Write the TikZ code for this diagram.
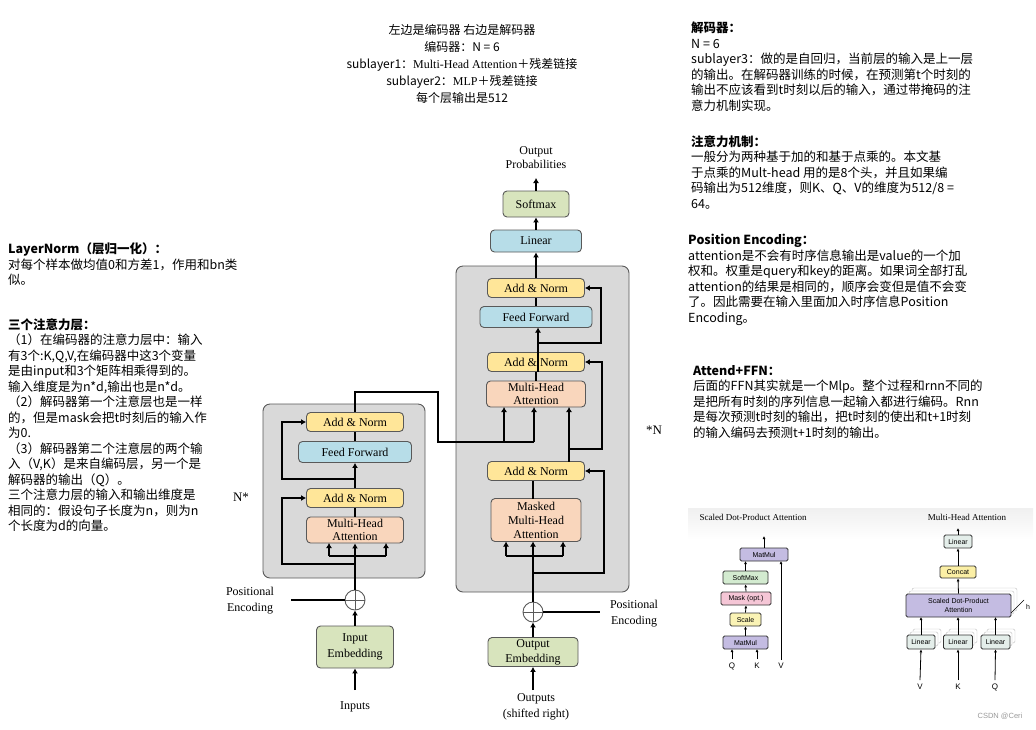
\documentclass[tikz,border=0pt]{standalone}
\usepackage{fontspec}
\setmainfont{Liberation Serif}
\newfontfamily\cjk{Noto Sans CJK SC}
\newfontfamily\sans{Liberation Sans}
\usetikzlibrary{arrows.meta}
\definecolor{gbox}{HTML}{D9D9D9}
\definecolor{addn}{HTML}{FFE699}
\definecolor{ffc}{HTML}{B7DDE8}
\definecolor{mhac}{HTML}{F9D6BC}
\definecolor{embc}{HTML}{D8E4BD}
\definecolor{lav}{HTML}{C4BCE2}
\definecolor{sftc}{HTML}{D3EBD0}
\definecolor{mskc}{HTML}{F5C6D6}
\definecolor{sclc}{HTML}{FAF3B5}
\definecolor{linc}{HTML}{E4EEEA}
\definecolor{conc}{HTML}{FBEFA5}
\begin{document}
\begin{tikzpicture}[x=1pt,y=-1pt,
 blk/.style={draw=black!65,line width=0.9pt,rounded corners=4pt,align=center,inner sep=0pt,
   font=\fontsize{12}{13}\selectfont},
 an/.style={blk,fill=addn,minimum width=97pt,minimum height=19pt},
 ln/.style={line width=1.3pt},
 arr/.style={line width=1.3pt,-{Latex[length=5pt,width=6pt]}},
 cb/.style={draw=black!65,line width=0.9pt,circle,minimum size=20pt,inner sep=0pt,
   path picture={\draw[line width=0.9pt] (path picture bounding box.north)--(path picture bounding box.south)
   (path picture bounding box.west)--(path picture bounding box.east);}},
 tx/.style={anchor=north west,align=left,inner sep=0pt,font=\cjk\fontsize{12.5}{15.5}\selectfont},
 lbl/.style={align=center,inner sep=0pt,font=\fontsize{12}{13}\selectfont},
 mb/.style={draw=black!80,line width=0.8pt,rounded corners=1.5pt,inner sep=0pt,font=\sans\fontsize{7}{8}\selectfont},
 marr/.style={line width=0.8pt,-{Latex[length=3pt,width=3pt]}}
]
\useasboundingbox (0,0) rectangle (1036,729);
% top text
\node[lbl,font=\cjk\fontsize{12}{17}\selectfont] (top) at (462,64) {左边是编码器 右边是解码器\\编码器：N = 6\\sublayer1：{\rmfamily Multi-Head Attention}＋残差链接\\sublayer2：{\rmfamily MLP}＋残差链接\\每个层输出是512};
% left text
\node[tx] (lt1) at (8,243) {\textbf{LayerNorm（层归一化）：}\\对每个样本做均值0和方差1，作用和bn类\\似。};
\node[tx] (lt2) at (8,318) {\textbf{三个注意力层：}\\（1）在编码器的注意力层中：输入\\有3个:K,Q,V,在编码器中这3个变量\\是由input和3个矩阵相乘得到的。\\输入维度是为n*d,输出也是n*d。\\（2）解码器第一个注意层也是一样\\的，但是mask会把t时刻后的输入作\\为0.\\（3）解码器第二个注意层的两个输\\入（V,K）是来自编码层，另一个是\\解码器的输出（Q）。\\三个注意力层的输入和输出维度是\\相同的：假设句子长度为n，则为n\\个长度为d的向量。};
% right text
\node[tx] (rt1) at (691,22) {\textbf{解码器：}\\N = 6\\sublayer3：做的是自回归，当前层的输入是上一层\\的输出。在解码器训练的时候，在预测第t个时刻的\\输出不应该看到t时刻以后的输入，通过带掩码的注\\意力机制实现。};
\node[tx] (rt2) at (691,135) {\textbf{注意力机制：}\\一般分为两种基于加的和基于点乘的。本文基\\于点乘的Mult-head 用的是8个头，并且如果编\\码输出为512维度，则K、Q、V的维度为512/8 =\\64。};
\node[tx] (rt3) at (688,234) {\textbf{Position Encoding：}\\attention是不会有时序信息输出是value的一个加\\权和。权重是query和key的距离。如果词全部打乱\\attention的结果是相同的，顺序会变但是值不会变\\了。因此需要在输入里面加入时序信息Position\\Encoding。};
\node[tx] (rt4) at (693,365) {\textbf{Attend+FFN：}\\后面的FFN其实就是一个Mlp。整个过程和rnn不同的\\是把所有时刻的序列信息一起输入都进行编码。Rnn\\是每次预测t时刻的输出，把t时刻的使出和t+1时刻\\的输入编码去预测t+1时刻的输出。};
% big boxes
\node[draw=black!65,line width=0.9pt,fill=gbox,rounded corners=7pt,minimum width=162pt,minimum height=174pt,inner sep=0pt] (encbox) at (344,491) {};
\node[draw=black!65,line width=0.9pt,fill=gbox,rounded corners=7pt,minimum width=173pt,minimum height=326pt,inner sep=0pt] (decbox) at (542.5,429) {};
\node[lbl,font=\fontsize{13}{14}\selectfont] (ns) at (241,497) {N*};
\node[lbl,font=\fontsize{13}{14}\selectfont] (sn) at (654,430) {*N};
% encoder
\node[an] (eAN2) at (355,422) {Add \& Norm};
\node[blk,fill=ffc,minimum width=113pt,minimum height=21pt] (eFF) at (355,452) {Feed Forward};
\node[an] (eAN1) at (355,498) {Add \& Norm};
\node[blk,fill=mhac,minimum width=97pt,minimum height=26pt,font=\fontsize{12}{13.5}\selectfont] (eMHA) at (355,530) {Multi-Head\\Attention};
\node[cb] (pe1) at (355,600) {};
\node[blk,fill=embc,minimum width=77pt,minimum height=42pt,font=\fontsize{12}{16}\selectfont] (iemb) at (355,647) {Input\\Embedding};
\node[lbl] (inp) at (355,707) {Inputs};
\node[lbl,font=\fontsize{12}{16}\selectfont] (pel) at (250,601) {Positional\\Encoding};
% decoder
\node[an] (dAN3) at (536,288) {Add \& Norm};
\node[blk,fill=ffc,minimum width=112pt,minimum height=21pt] (dFF) at (536,317) {Feed Forward};
\node[an] (dAN2) at (536,362) {Add \& Norm};
\node[blk,fill=mhac,minimum width=99pt,minimum height=26pt,font=\fontsize{12}{13.5}\selectfont] (dMHA) at (536,394) {Multi-Head\\Attention};
\node[an] (dAN1) at (536,471) {Add \& Norm};
\node[blk,fill=mhac,minimum width=90pt,minimum height=43pt,font=\fontsize{12}{14}\selectfont] (dMM) at (536,520) {Masked\\Multi-Head\\Attention};
\node[cb] (pe2) at (533,612) {};
\node[blk,fill=embc,minimum width=90pt,minimum height=29pt,font=\fontsize{12}{15}\selectfont] (oemb) at (533,652) {Output\\Embedding};
\node[lbl,font=\fontsize{12}{16}\selectfont] (outp) at (536,707) {Outputs\\(shifted right)};
\node[lbl,font=\fontsize{12}{16}\selectfont] (per) at (634,614) {Positional\\Encoding};
\node[blk,fill=ffc,minimum width=91pt,minimum height=22pt] (lin) at (536,241) {Linear};
\node[blk,fill=embc,minimum width=66pt,minimum height=26pt] (smx) at (536,204) {Softmax};
\node[lbl,font=\fontsize{12}{14}\selectfont] (oprob) at (536,158) {Output\\Probabilities};
% encoder connectors
\draw[arr] (355,690) -- (iemb.south);
\draw[arr] (iemb.north) -- (pe1.south);
\draw[ln] (291,600) -- (pe1.west);
\draw[ln] (pe1.north) -- (355,556);
\draw[ln] (329,556) -- (386,556);
\draw[arr] (355,556) -- (eMHA.south);
\draw[arr] (329,556) -- (329,543);
\draw[arr] (386,556) -- (386,543);
\draw[arr] (355,564) -- (282,564) -- (282,498) -- (eAN1.west);
\draw[ln] (eMHA.north) -- (eAN1.south);
\draw[arr] (eAN1.north) -- (eFF.south);
\draw[arr] (355,479) -- (282,479) -- (282,422) -- (eAN2.west);
\draw[ln] (eFF.north) -- (eAN2.south);
\draw[ln] (eAN2.north) -- (355,392) -- (438,392) -- (438,442) -- (534,442);
\draw[arr] (504,442) -- (504,407);
\draw[arr] (534,442) -- (534,407);
% decoder connectors
\draw[arr] (533,690) -- (oemb.south);
\draw[arr] (oemb.north) -- (pe2.south);
\draw[ln] (pe2.east) -- (600,612);
\draw[ln] (pe2.north) -- (533,556);
\draw[ln] (506,556) -- (563,556);
\draw[arr] (533,556) -- (533,541.5);
\draw[arr] (506,556) -- (506,541.5);
\draw[arr] (563,556) -- (563,541.5);
\draw[arr] (533,573) -- (604,573) -- (604,471) -- (dAN1.east);
\draw[ln] (533,498.5) -- (533,480.5);
\draw[arr] (569,461.5) -- (569,407);
\draw[arr] (569,449) -- (602,449) -- (602,362) -- (dAN2.east);
\draw[ln] (dMHA.north) -- (dAN2.south);
\draw[arr] (538,371.5) -- (538,327.5);
\draw[arr] (538,343) -- (601,343) -- (601,288) -- (dAN3.east);
\draw[ln] (dFF.north) -- (dAN3.south);
\draw[arr] (dAN3.north) -- (lin.south);
\draw[arr] (lin.north) -- (smx.south);
\draw[arr] (smx.north) -- (536,178);
% mini diagrams
\shade[top color=black!6,bottom color=white] (688,508) rectangle (1033,540);
\node[font=\fontsize{9}{10}\selectfont] (sdt) at (753,517) {Scaled Dot-Product Attention};
\node[font=\fontsize{9}{10}\selectfont] (mht) at (967,517) {Multi-Head Attention};
\node[mb,fill=lav,minimum width=48pt,minimum height=13pt] (mm2) at (764,554.5) {MatMul};
\node[mb,fill=sftc,minimum width=45pt,minimum height=13pt] (sm) at (745.5,577.5) {SoftMax};
\node[mb,fill=mskc,minimum width=50pt,minimum height=13pt] (msk) at (746,598.5) {Mask (opt.)};
\node[mb,fill=sclc,minimum width=31pt,minimum height=13pt] (scl) at (745.5,619.5) {Scale};
\node[mb,fill=lav,minimum width=45pt,minimum height=13pt] (mm1) at (745.5,642.5) {MatMul};
\node[font=\sans\fontsize{8}{9}\selectfont] (q1) at (732,666) {Q};
\node[font=\sans\fontsize{8}{9}\selectfont] (k1) at (757,666) {K};
\node[font=\sans\fontsize{8}{9}\selectfont] (v1) at (781,666) {V};
\draw[marr] (732,659) -- (732,649);
\draw[marr] (757,659) -- (757,649);
\draw[marr] (781,660) -- (781,561);
\draw[marr] (mm1.north) -- (scl.south);
\draw[marr] (scl.north) -- (msk.south);
\draw[marr] (msk.north) -- (sm.south);
\draw[marr] (sm.north) -- (745.5,561);
\draw[marr] (mm2.north) -- (764,536);
% multi-head
\foreach \d in {6,3}{
 \draw[black!25,fill=white,rounded corners=2pt] (906+\d,594-\d) rectangle (1011+\d,617-\d);
 \foreach \xx in {907,943,981}{\draw[black!25,fill=white,rounded corners=1.5pt] (\xx+\d,635-\d) rectangle (\xx+28+\d,649-\d);}
}
\node[mb,fill=lav,minimum width=105pt,minimum height=23pt,align=center,font=\sans\fontsize{7}{8.5}\selectfont] (sdpa) at (958.5,605.5) {Scaled Dot-Product\\Attention};
\node[mb,fill=linc,minimum width=28pt,minimum height=14pt] (l1) at (921,642) {Linear};
\node[mb,fill=linc,minimum width=29pt,minimum height=14pt] (l2) at (958,642) {Linear};
\node[mb,fill=linc,minimum width=29pt,minimum height=14pt] (l3) at (995.5,642) {Linear};
\node[mb,fill=conc,minimum width=36pt,minimum height=12pt] (cc) at (958,572) {Concat};
\node[mb,fill=linc,minimum width=28pt,minimum height=13pt] (lt) at (958,541.5) {Linear};
\node[font=\sans\fontsize{8}{9}\selectfont] (v2) at (920,687) {V};
\node[font=\sans\fontsize{8}{9}\selectfont] (k2) at (958,687) {K};
\node[font=\sans\fontsize{8}{9}\selectfont] (q2) at (995,687) {Q};
\node[font=\sans\fontsize{7}{8}\selectfont] (hh) at (1028,607) {h};
\draw[line width=0.6pt] (1011,613) -- (1024,600);
\draw[marr] (920,680) -- (l1.south);
\draw[marr] (958,680) -- (l2.south);
\draw[marr] (995,680) -- (l3.south);
\draw[marr] (l1.north) -- (921,617);
\draw[marr] (l2.north) -- (958,617);
\draw[marr] (l3.north) -- (995.5,617);
\draw[marr] (sdpa.north) -- (cc.south);
\draw[marr] (cc.north) -- (lt.south);
\draw[marr] (lt.north) -- (958,528);
\node[font=\sans\fontsize{7.5}{8}\selectfont,text=black!40] (csdn) at (1000,716) {CSDN @Ceri};
\end{tikzpicture}
\end{document}
